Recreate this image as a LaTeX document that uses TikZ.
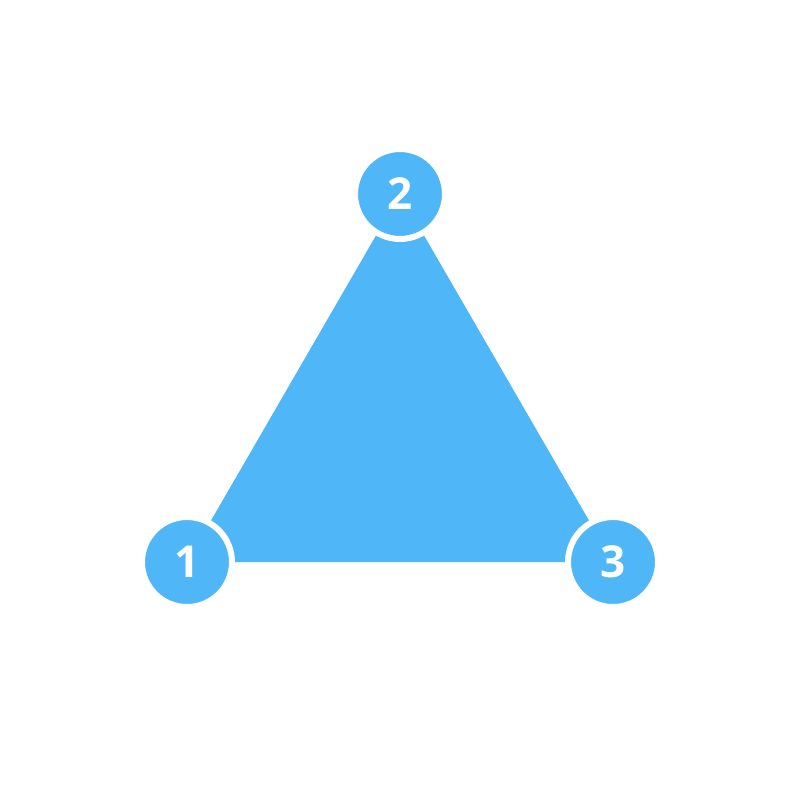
\documentclass[tikz,border=0pt]{standalone}
\usepackage{fontspec}
\setmainfont{Open Sans}
\usetikzlibrary{backgrounds}
\definecolor{triblue}{RGB}{79,182,247}
\tikzset{
  numcircle/.style={circle, inner sep=0pt, minimum size=90pt, fill=triblue, draw=white, line width=6pt,
    text=white, font=\fontsize{44}{44}\selectfont\bfseries},
}
\begin{document}
\begin{tikzpicture}[x=1pt,y=-1pt]
\useasboundingbox (0,0) rectangle (800,800);
\node[numcircle] (n2) at (400,194) {2};
\node[numcircle] (n1) at (187,562) {1};
\node[numcircle] (n3) at (613,562) {3};
\begin{pgfonlayer}{background}
\fill[triblue] (n1.center) -- (n2.center) -- (n3.center) -- cycle;
\end{pgfonlayer}
\end{tikzpicture}
\end{document}
